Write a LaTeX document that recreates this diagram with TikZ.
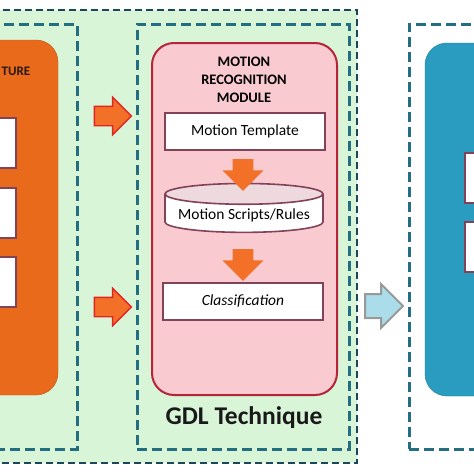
\documentclass[tikz,border=0pt]{standalone}
\usepackage{fontspec}
\setmainfont{Carlito}
\usetikzlibrary{shapes.arrows,shapes.geometric}

\definecolor{bggreen}{RGB}{216,245,216}
\definecolor{dashteal}{RGB}{36,110,130}
\definecolor{darkteal}{RGB}{28,70,90}
\definecolor{boxorange}{RGB}{234,106,28}
\definecolor{pinkfill}{RGB}{249,203,208}
\definecolor{pinkrim}{RGB}{180,36,58}
\definecolor{boxblue}{RGB}{42,156,191}
\definecolor{mauve}{RGB}{130,66,88}
\definecolor{arrowred}{RGB}{226,36,36}
\definecolor{arroworange}{RGB}{242,112,40}
\definecolor{arrowblue}{RGB}{170,220,234}

\begin{document}
\begin{tikzpicture}[x=1pt,y=-1pt,
  dashbox/.style={draw=dashteal, line width=3pt, dash pattern=on 10pt off 5pt},
  whitebox/.style={fill=white, draw=mauve, line width=1.6pt},
  redarrow/.style={single arrow, fill=arroworange, draw=arrowred, line width=1.4pt, inner xsep=0pt, inner ysep=9pt, single arrow head extend=9pt},
  downarrow/.style={redarrow, draw=arroworange, shape border rotate=270, inner xsep=9pt, inner ysep=0pt, minimum height=30pt}]
\useasboundingbox (0,0) rectangle (474,474);
\clip (0,0) rectangle (474,474);

% green area and dashed frames
\node (G) at (168.5,236.5) [fill=bggreen, draw=darkteal, line width=1.2pt, dash pattern=on 7pt off 4pt, minimum width=377pt, minimum height=453pt]{};
\node (L) at (28.5,236.5) [dashbox, minimum width=97pt, minimum height=425pt]{};
\node (M) at (243,236.5) [dashbox, minimum width=212pt, minimum height=425pt]{};
\node (R) at (464.5,236.5) [dashbox, fill=white, minimum width=111pt, minimum height=425pt]{};

% left module
\node (A) at (14,217.5) [fill=boxorange, draw=boxorange!80!black, rounded corners=22pt, minimum width=88pt, minimum height=355pt]{};
\node (A-1) at (-2,143) [whitebox, minimum width=36pt, minimum height=50pt]{};
\node (A-2) at (-2,213) [whitebox, minimum width=36pt, minimum height=50pt]{};
\node (A-3) at (-2,282) [whitebox, minimum width=36pt, minimum height=50pt]{};
\node (A-t) at (1.5,71) [anchor=west, inner sep=0pt, text=black!80!brown, font=\bfseries\fontsize{13}{13}\selectfont]{TURE};

% motion recognition module
\node (B) at (244.5,219) [fill=pinkfill, draw=pinkrim, line width=2pt, rounded corners=22pt, minimum width=185pt, minimum height=352pt]{};
\node (B-t) at (244,80) [align=center, font=\bfseries\fontsize{14.5}{18}\selectfont]{MOTION\\RECOGNITION\\MODULE};
\node (B-1) at (245,131.5) [whitebox, minimum width=160pt, minimum height=37pt, font=\fontsize{15.5}{15.5}\selectfont]{Motion Template};
\node (B-2) at (244,215) [cylinder, shape border rotate=90, aspect=0.15, draw=mauve, line width=1.6pt, cylinder uses custom fill, cylinder body fill=white, cylinder end fill=pinkfill!70!mauve!40, minimum width=158pt, minimum height=44pt, font=\fontsize{15.5}{15.5}\selectfont]{Motion Scripts/Rules};
\node (B-3) at (243,301.5) [whitebox, minimum width=160pt, minimum height=37pt, font=\itshape\fontsize{15.5}{15.5}\selectfont]{Classification};
\node (B-d1) at (243,170) [downarrow]{};
\node (B-d2) at (243,260) [downarrow]{};
\node (gdl) at (244,418) [font=\bfseries\fontsize{25.5}{25.5}\selectfont, text=black!90]{GDL Technique};

% arrows between modules
\node (AB-1) at (108,116) [redarrow, minimum height=37pt]{};
\node (AB-2) at (108,307) [redarrow, minimum height=37pt]{};
\node (BC) at (378,306) [redarrow, fill=arrowblue, draw=gray!80, line width=2pt, inner ysep=11pt, single arrow head extend=10pt, minimum height=38pt]{};

% right module
\node (C) at (475,219.5) [fill=boxblue, draw=boxblue!80!black, rounded corners=22pt, minimum width=100pt, minimum height=353pt]{};
\node (C-1) at (485,178) [whitebox, minimum width=40pt, minimum height=50pt]{};
\node (C-2) at (485,247) [whitebox, minimum width=40pt, minimum height=50pt]{};

\end{tikzpicture}
\end{document}
